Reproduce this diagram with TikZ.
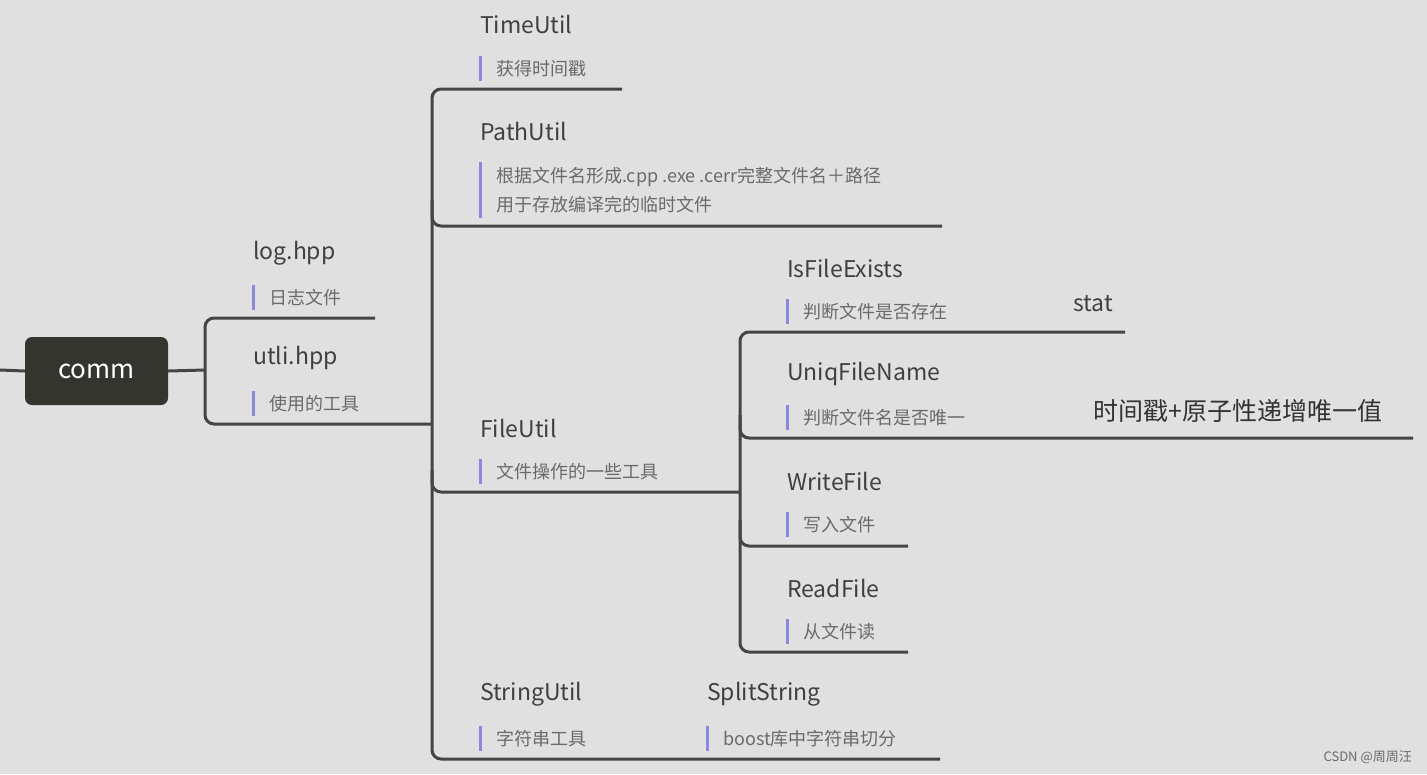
\documentclass[tikz,border=0pt]{standalone}
\usepackage{fontspec}
\setmainfont{Noto Sans CJK SC}
\begin{document}
\begin{tikzpicture}[x=1pt,y=-1pt,
  ln/.style={draw=linec,line width=3pt,rounded corners=9pt},
  ttl/.style={anchor=west,inner sep=0pt,text=titlec,font=\fontsize{23}{27}\selectfont},
  nt/.style={anchor=west,inner sep=0pt,text=notec,font=\fontsize{18}{29}\selectfont,align=left},
  bar/.style={draw=barc,line width=3pt}]
\definecolor{bg}{HTML}{E0E0E0}
\definecolor{linec}{HTML}{454545}
\definecolor{titlec}{HTML}{404040}
\definecolor{notec}{HTML}{6A6A6A}
\definecolor{barc}{HTML}{8C87E0}
\definecolor{boxc}{HTML}{35352F}
\fill[bg] (0,0) rectangle (1427,774);
\useasboundingbox (0,0) rectangle (1427,774);
% lines
\coordinate (l0) at (0,370);
\node[fill=boxc,rounded corners=7pt,minimum width=143pt,minimum height=68pt,text=white,font=\fontsize{26}{30}\selectfont] (comm) at (96.5,371) {comm};
\draw[ln] (l0) -- (comm.west);
\draw[ln] (comm.east) -- (205,370);
\draw[ln] (375,318) -- (205,318) -- (205,424) -- (432,424);
\draw[ln] (622,89) -- (432,89) -- (432,759) -- (940,759);
\draw[ln] (432,200) |- (942,226);
\draw[ln] (432,470) |- (740,492);
\draw[ln] (1125,332) -- (740,332) -- (740,652) -- (908,652);
\draw[ln] (740,415) |- (1413,438);
\draw[ln] (740,520) |- (908,546);
% texts
\newcommand{\nte}[4]{\draw[bar] (#1,#2) -- (#1,#3); \node[nt] at (#1+16,{(#2+#3)/2}) {#4};}
\node[ttl] (t1) at (480,24) {TimeUtil};
\nte{480}{56}{81}{获得时间戳}
\node[ttl] (t2) at (480,131) {PathUtil};
\nte{480}{162}{218}{根据文件名形成.cpp .exe .cerr完整文件名＋路径\\用于存放编译完的临时文件}
\node[ttl] (t3) at (253,253) {log.hpp};
\nte{253}{285}{310}{日志文件}
\node[ttl] (t4) at (253,358) {utli.hpp};
\nte{253}{391}{416}{使用的工具}
\node[ttl] (t5) at (480,428) {FileUtil};
\nte{480}{459}{484}{文件操作的一些工具}
\node[ttl] (t6) at (480,694) {StringUtil};
\nte{480}{726}{751}{字符串工具}
\node[ttl] (t7) at (707,694) {SplitString};
\nte{707}{726}{751}{boost库中字符串切分}
\node[ttl] (t8) at (787,268) {IsFileExists};
\nte{787}{299}{324}{判断文件是否存在}
\node[ttl] (t9) at (1073,304) {stat};
\node[ttl] (t10) at (787,374) {UniqFileName};
\nte{787}{405}{430}{判断文件名是否唯一}
\node[ttl,text=black!80,font=\fontsize{25}{29}\selectfont] (t11) at (1093,411) {时间戳+原子性递增唯一值};
\node[ttl] (t12) at (787,481) {WriteFile};
\nte{787}{512}{537}{写入文件}
\node[ttl] (t13) at (787,588) {ReadFile};
\nte{787}{619}{644}{从文件读}
\node[anchor=east,inner sep=0pt,text=notec,font=\fontsize{13}{15}\selectfont] (wm) at (1412,757) {CSDN @周周汪};
\end{tikzpicture}
\end{document}
